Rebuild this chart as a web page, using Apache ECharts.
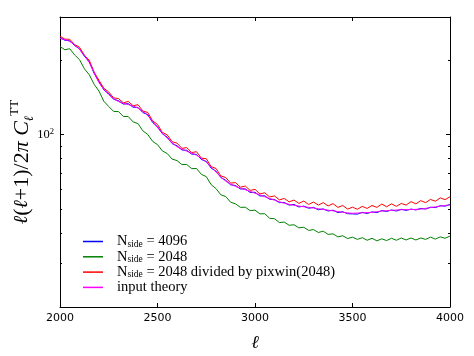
<!DOCTYPE html>
<html><head><meta charset="utf-8">
<script src="https://cdn.jsdelivr.net/npm/echarts@6/dist/echarts.min.js"></script>
<style>html,body{margin:0;padding:0;background:#fff}#c{width:474px;height:356px}</style>
</head><body><div id="c"></div>
<script>
// multipole grid for the measured spectra (step 25)
const ells = [2000,2025,2050,2075,2100,2125,2150,2175,2200,2225,2250,2275,2300,2325,2350,2375,2400,2425,2450,2475,
  2500,2525,2550,2575,2600,2625,2650,2675,2700,2725,2750,2775,2800,2825,2850,2875,2900,2925,2950,2975,
  3000,3025,3050,3075,3100,3125,3150,3175,3200,3225,3250,3275,3300,3325,3350,3375,3400,3425,3450,3475,
  3500,3525,3550,3575,3600,3625,3650,3675,3700,3725,3750,3775,3800,3825,3850,3875,3900,3925,3950,3975,4000];
const nside4096 = [247.0,241.5,240.2,229.8,222.9,208.0,197.5,177.2,163.8,151.9,146.5,139.1,137.3,133.0,133.6,129.2,129.0,122.9,120.6,112.0,
  107.7,100.8,97.6,92.0,90.1,86.7,86.4,83.4,83.2,79.3,77.9,73.2,71.1,67.0,65.3,62.6,62.2,60.2,60.3,58.3,
  58.4,56.4,56.5,54.7,54.6,53.0,53.1,51.8,52.1,50.9,51.3,50.3,50.7,49.6,50.0,49.0,49.4,48.3,48.7,47.8,
  47.7,47.6,48.4,47.9,48.6,48.3,49.2,48.8,49.5,49.0,49.8,49.3,49.9,49.5,50.2,49.9,50.8,50.6,51.5,51.3,52.1];
const nside2048 = [227.5,221.0,223.0,210.5,201.5,185.0,175.0,160.0,150.2,136.5,130.0,124.2,124.0,118.5,118.4,112.6,110.9,103.6,100.2,93.9,
  91.1,85.9,83.8,79.6,78.5,75.6,75.7,72.8,72.9,69.0,67.6,62.7,60.4,57.0,56.1,53.2,52.4,50.7,50.8,49.2,
  49.4,47.7,47.8,45.8,45.6,44.0,44.2,42.9,43.1,41.9,42.1,40.9,41.2,40.1,40.6,39.4,39.6,38.5,38.9,37.9,
  38.4,37.6,38.2,37.3,38.0,37.1,37.8,37.2,38.0,37.3,38.1,37.4,38.1,37.4,38.1,37.6,38.4,37.7,38.5,38.0,38.8];
const nside2048Pixwin = [250.5,244.0,243.6,232.0,226.2,210.0,200.4,179.3,166.0,154.2,148.9,141.0,140.0,134.5,136.4,131.0,132.3,124.6,123.0,113.8,
  110.0,102.1,99.8,93.6,92.4,88.0,88.6,84.6,85.3,80.3,79.9,74.2,72.9,68.0,67.0,63.6,63.9,61.2,61.9,59.4,
  60.0,57.5,58.1,55.9,56.4,54.4,55.1,53.4,54.3,52.6,53.8,52.1,53.3,51.8,53.0,51.4,52.5,50.7,51.6,49.9,
  50.8,49.8,51.2,50.2,51.6,50.7,52.3,51.0,52.4,51.2,52.6,51.8,53.5,52.4,54.0,53.0,54.6,53.7,55.4,54.5,56.0];
// input theory (step 50)
const theoryEll = [2000,2050,2100,2150,2200,2250,2300,2350,2400,2450,2500,2550,2600,2650,2700,2750,2800,2850,2900,2950,
  3000,3050,3100,3150,3200,3250,3300,3350,3400,3450,3500,3550,3600,3650,3700,3750,3800,3850,3900,3950,4000];
const theory = [245.6,238.8,221.6,196.2,162.7,145.4,136.2,132.4,128.1,119.5,106.8,96.8,89.4,85.7,82.5,77.3,70.5,64.8,61.7,59.8,
  57.9,56.0,54.2,52.7,51.7,51.0,50.4,49.7,49.1,48.4,48.0,48.2,48.4,49.0,49.3,49.6,49.7,49.9,50.6,51.3,51.9];
const xTicks = [2000,2500,3000,3500,4000];
const yMajorTicks = [100];
const yMinorTicks = [20,30,40,50,60,70,80,90,200,300];

const serif = 'Liberation Serif';
const ellFont = 'DejaVu Serif';
const pair = (xs, ys) => xs.map((x, i) => [x, ys[i]]);
const legendText = {
  'nside4096': '{n|N}{s|side}{n| = 4096}',
  'nside2048': '{n|N}{s|side}{n| = 2048}',
  'nside2048pix': '{n|N}{s|side}{n| = 2048 divided by pixwin(2048)}',
  'theory': '{n|input theory}'
};
const axisLine = {show: true, onZero: false, lineStyle: {color: '#000', width: 1}};
const chart = echarts.init(document.getElementById('c'), null, {renderer: 'canvas', width: 474, height: 356});
const gridBox = {left: 60, right: 24, top: 17, bottom: 49, outerBoundsMode: 'none', containLabel: false};
const option = {
  animation: false,
  backgroundColor: '#fff',
  grid: [Object.assign({}, gridBox), Object.assign({}, gridBox)],
  legend: {
    orient: 'vertical', left: 78, top: 229, itemWidth: 20, itemHeight: 1.5, itemGap: 0.3,
    icon: 'rect',
    data: ['nside4096', 'nside2048', 'nside2048pix', 'theory'],
    formatter: n => legendText[n],
    textStyle: {
      padding: [0, 0, 0, 9],
      color: '#000', fontFamily: serif, fontSize: 14.5,
      rich: {
        n: {fontFamily: serif, fontSize: 14.5, lineHeight: 15, color: '#000'},
        s: {fontFamily: serif, fontSize: 9.5, lineHeight: 8, verticalAlign: 'bottom', color: '#000'}
      }
    }
  },
  xAxis: [
    {gridIndex: 0, type: 'value', position: 'bottom', min: 2000, max: 4000, interval: 500,
      axisLine: axisLine, splitLine: {show: false},
      axisTick: {show: true, inside: true, length: 4, customValues: xTicks, lineStyle: {color: '#000'}},
      axisLabel: {margin: 6, fontSize: 11, color: '#000', fontFamily: 'DejaVu Sans', customValues: xTicks,
        formatter: v => String(v)},
      name: 'ℓ', nameLocation: 'middle', nameGap: 27, nameMoveOverlap: false,
      nameTextStyle: {fontFamily: ellFont, fontSize: 18, color: '#000', fontStyle: 'italic'}},
    {gridIndex: 0, type: 'value', position: 'top', min: 2000, max: 4000, interval: 500,
      axisLine: axisLine, splitLine: {show: false},
      axisTick: {show: true, inside: true, length: 4, customValues: xTicks, lineStyle: {color: '#000'}},
      axisLabel: {show: false}},
    {gridIndex: 1, type: 'value', min: 2000, max: 4000, show: false}
  ],
  yAxis: [
    {gridIndex: 0, type: 'log', logBase: 10, min: 20, max: 300, position: 'left',
      axisLine: axisLine, splitLine: {show: false}, minorTick: {show: false},
      axisTick: {show: true, inside: true, length: 4, customValues: yMajorTicks, lineStyle: {color: '#000'}},
      axisLabel: {customValues: yMajorTicks, margin: 6, formatter: () => '{b|10}{p|2}',
        rich: {b: {fontFamily: serif, fontSize: 12.5, lineHeight: 15, color: '#000'},
               p: {fontFamily: serif, fontSize: 8.5, lineHeight: 9, verticalAlign: 'top', color: '#000'}}},
      name: '{l|ℓ}{a|(}{l|ℓ}{a|+1)/2}{i|π C}{sb|ℓ}{sp|TT}', nameLocation: 'middle', nameRotate: 90,
      nameGap: 24, nameMoveOverlap: false,
      nameTextStyle: {fontFamily: serif, fontSize: 22, color: '#000',
        rich: {
          l: {fontFamily: ellFont, fontSize: 20, lineHeight: 28, fontStyle: 'italic', color: '#000'},
          a: {fontFamily: serif, fontSize: 22, lineHeight: 28, color: '#000'},
          i: {fontFamily: serif, fontSize: 22, lineHeight: 28, fontStyle: 'italic', color: '#000'},
          sb: {fontFamily: ellFont, fontSize: 13, lineHeight: 13, verticalAlign: 'bottom', fontStyle: 'italic', color: '#000'},
          sp: {fontFamily: serif, fontSize: 13, lineHeight: 13, verticalAlign: 'top', color: '#000'}
        }}},
    {gridIndex: 0, type: 'log', logBase: 10, min: 20, max: 300, position: 'right',
      axisLine: axisLine, splitLine: {show: false}, minorTick: {show: false},
      axisTick: {show: true, inside: true, length: 4, customValues: yMajorTicks, lineStyle: {color: '#000'}},
      axisLabel: {show: false}},
    {gridIndex: 1, type: 'log', logBase: 10, min: 20, max: 300, position: 'left',
      axisLine: {show: false}, splitLine: {show: false},
      axisTick: {show: true, inside: true, length: 2, customValues: yMinorTicks, lineStyle: {color: '#000'}},
      axisLabel: {show: false}},
    {gridIndex: 1, type: 'log', logBase: 10, min: 20, max: 300, position: 'right',
      axisLine: {show: false}, splitLine: {show: false},
      axisTick: {show: true, inside: true, length: 2, customValues: yMinorTicks, lineStyle: {color: '#000'}},
      axisLabel: {show: false}}
  ],
  series: [
    {name: 'nside4096', type: 'line', xAxisIndex: 0, yAxisIndex: 0, data: pair(ells, nside4096),
      showSymbol: false, color: '#0000ff', lineStyle: {width: 1, color: '#0000ff'}, z: 2},
    {name: 'nside2048', type: 'line', xAxisIndex: 0, yAxisIndex: 0, data: pair(ells, nside2048),
      showSymbol: false, color: '#008000', lineStyle: {width: 1, color: '#008000'}, z: 3},
    {name: 'nside2048pix', type: 'line', xAxisIndex: 0, yAxisIndex: 0, data: pair(ells, nside2048Pixwin),
      showSymbol: false, color: '#ff0000', lineStyle: {width: 1, color: '#ff0000'}, z: 4},
    {name: 'theory', type: 'line', xAxisIndex: 0, yAxisIndex: 0, data: pair(theoryEll, theory),
      showSymbol: false, smooth: 0.3, color: '#ff00ff', lineStyle: {width: 1, color: '#ff00ff'}, z: 5}
  ]
};
chart.setOption(option);
</script></body></html>
